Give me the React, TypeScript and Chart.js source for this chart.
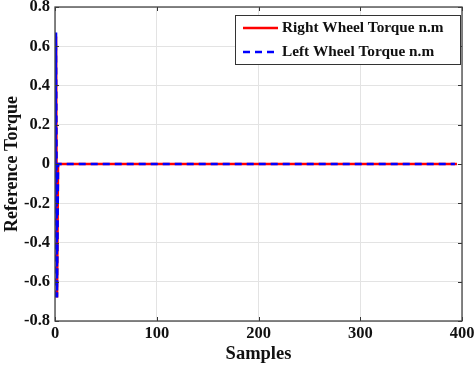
import React, { useEffect, useRef } from "react";
import { Chart, registerables } from "chart.js";
Chart.register(...registerables);

const rightX = [0, 1, 2, 3, 395];
const rightY = [0, 0.65, -0.68, 0, 0];
const leftX = [0, 1, 2, 3, 393];
const leftY = [-0.68, 0.67, -0.68, 0, 0];
const seriesNames = ["Right Wheel Torque n.m", "Left Wheel Torque n.m"];
const xTicks = [0, 100, 200, 300, 400];
const yTicks = [-0.8, -0.6, -0.4, -0.2, 0, 0.2, 0.4, 0.6, 0.8];

const FONT = "'Liberation Serif', 'Times New Roman', serif";

const boxPlugin = {
  id: "box",
  afterDraw(chart: any) {
    const { ctx, chartArea: a, scales } = chart;
    ctx.save();
    ctx.strokeStyle = "#333";
    ctx.lineWidth = 1;
    ctx.beginPath();
    xTicks.forEach((t) => {
      const px = Math.round(scales.x.getPixelForValue(t)) + 0.5;
      ctx.moveTo(px, a.bottom);
      ctx.lineTo(px, a.bottom - 4);
      ctx.moveTo(px, a.top);
      ctx.lineTo(px, a.top + 4);
    });
    yTicks.forEach((t) => {
      const py = Math.round(scales.y.getPixelForValue(t)) + 0.5;
      ctx.moveTo(a.left, py);
      ctx.lineTo(a.left + 4, py);
      ctx.moveTo(a.right, py);
      ctx.lineTo(a.right - 4, py);
    });
    ctx.stroke();
    ctx.strokeStyle = "#444";
    ctx.lineWidth = 1.3;
    ctx.strokeRect(a.left, a.top, a.right - a.left, a.bottom - a.top);

    // legend
    const lx = 235, ly = 15, lw = 225, lh = 49;
    ctx.fillStyle = "#fff";
    ctx.fillRect(lx, ly, lw, lh);
    ctx.strokeStyle = "#333";
    ctx.lineWidth = 1;
    ctx.strokeRect(lx + 0.5, ly + 0.5, lw, lh);
    const rows = [
      { y: 28, color: "#ff0000", dash: [] as number[] },
      { y: 52, color: "#0000ff", dash: [7, 5] },
    ];
    rows.forEach((r, i) => {
      ctx.beginPath();
      ctx.setLineDash(r.dash);
      ctx.strokeStyle = r.color;
      ctx.lineWidth = 2.5;
      ctx.moveTo(243, r.y);
      ctx.lineTo(278, r.y);
      ctx.stroke();
      ctx.setLineDash([]);
      ctx.fillStyle = "#111";
      ctx.font = `bold 15.3px ${FONT}`;
      ctx.textBaseline = "middle";
      ctx.textAlign = "left";
      ctx.fillText(seriesNames[i], 282, r.y);
    });
    ctx.restore();
  },
};

export default function App() {
  const ref = useRef<HTMLCanvasElement>(null);
  useEffect(() => {
    document.body.style.margin = "0";
    const toPts = (xs: number[], ys: number[]) => xs.map((x, i) => ({ x, y: ys[i] }));
    const chart = new Chart(ref.current!, {
      type: "scatter",
      data: {
        datasets: [
          {
            label: seriesNames[1],
            data: toPts(leftX, leftY),
            showLine: true,
            borderColor: "#0000ff",
            borderWidth: 2.5,
            borderDash: [7, 5],
            pointRadius: 0,
            order: 0,
          },
          {
            label: seriesNames[0],
            data: toPts(rightX, rightY),
            showLine: true,
            borderColor: "#ff0000",
            borderWidth: 2.5,
            pointRadius: 0,
            order: 1,
          },
        ],
      },
      options: {
        animation: false,
        responsive: false,
        layout: { padding: { top: 7, right: 12, left: 0, bottom: 0 } },
        plugins: { legend: { display: false }, tooltip: { enabled: false } },
        scales: {
          x: {
            type: "linear",
            min: 0,
            max: 400,
            afterBuildTicks: (s: any) => {
              s.ticks = xTicks.map((v) => ({ value: v }));
            },
            afterFit: (s: any) => {
              s.height = 48;
              s.paddingLeft = 0;
              s.paddingRight = 0;
            },
            grid: { color: "#e3e3e3", drawTicks: false },
            border: { display: false },
            ticks: {
              color: "#111",
              padding: 3,
              maxRotation: 0,
              font: { family: FONT, weight: "bold", size: 16.5 },
            },
            title: {
              display: true,
              text: "Samples",
              color: "#111",
              padding: { top: 0, bottom: 4 },
              font: { family: FONT, weight: "bold", size: 18.5 },
            },
          },
          y: {
            type: "linear",
            min: -0.8,
            max: 0.8,
            afterBuildTicks: (s: any) => {
              s.ticks = yTicks.map((v) => ({ value: v }));
            },
            afterFit: (s: any) => {
              s.width = 55;
              s.paddingTop = 0;
              s.paddingBottom = 0;
            },
            grid: { color: "#e3e3e3", drawTicks: false },
            border: { display: false },
            ticks: {
              color: "#111",
              padding: 5,
              font: { family: FONT, weight: "bold", size: 16.5 },
              callback: (v: any) => {
                const n = Math.round(Number(v) * 10) / 10;
                return n === 0 ? "0" : String(n);
              },
            },
            title: {
              display: true,
              text: "Reference Torque",
              color: "#111",
              padding: { top: 2, bottom: 0 },
              font: { family: FONT, weight: "bold", size: 18 },
            },
          },
        },
      },
      plugins: [boxPlugin],
    });
    return () => chart.destroy();
  }, []);
  return (
    <div style={{ width: 474, height: 369, background: "#fff" }}>
      <canvas ref={ref} width={474} height={369} />
    </div>
  );
}
